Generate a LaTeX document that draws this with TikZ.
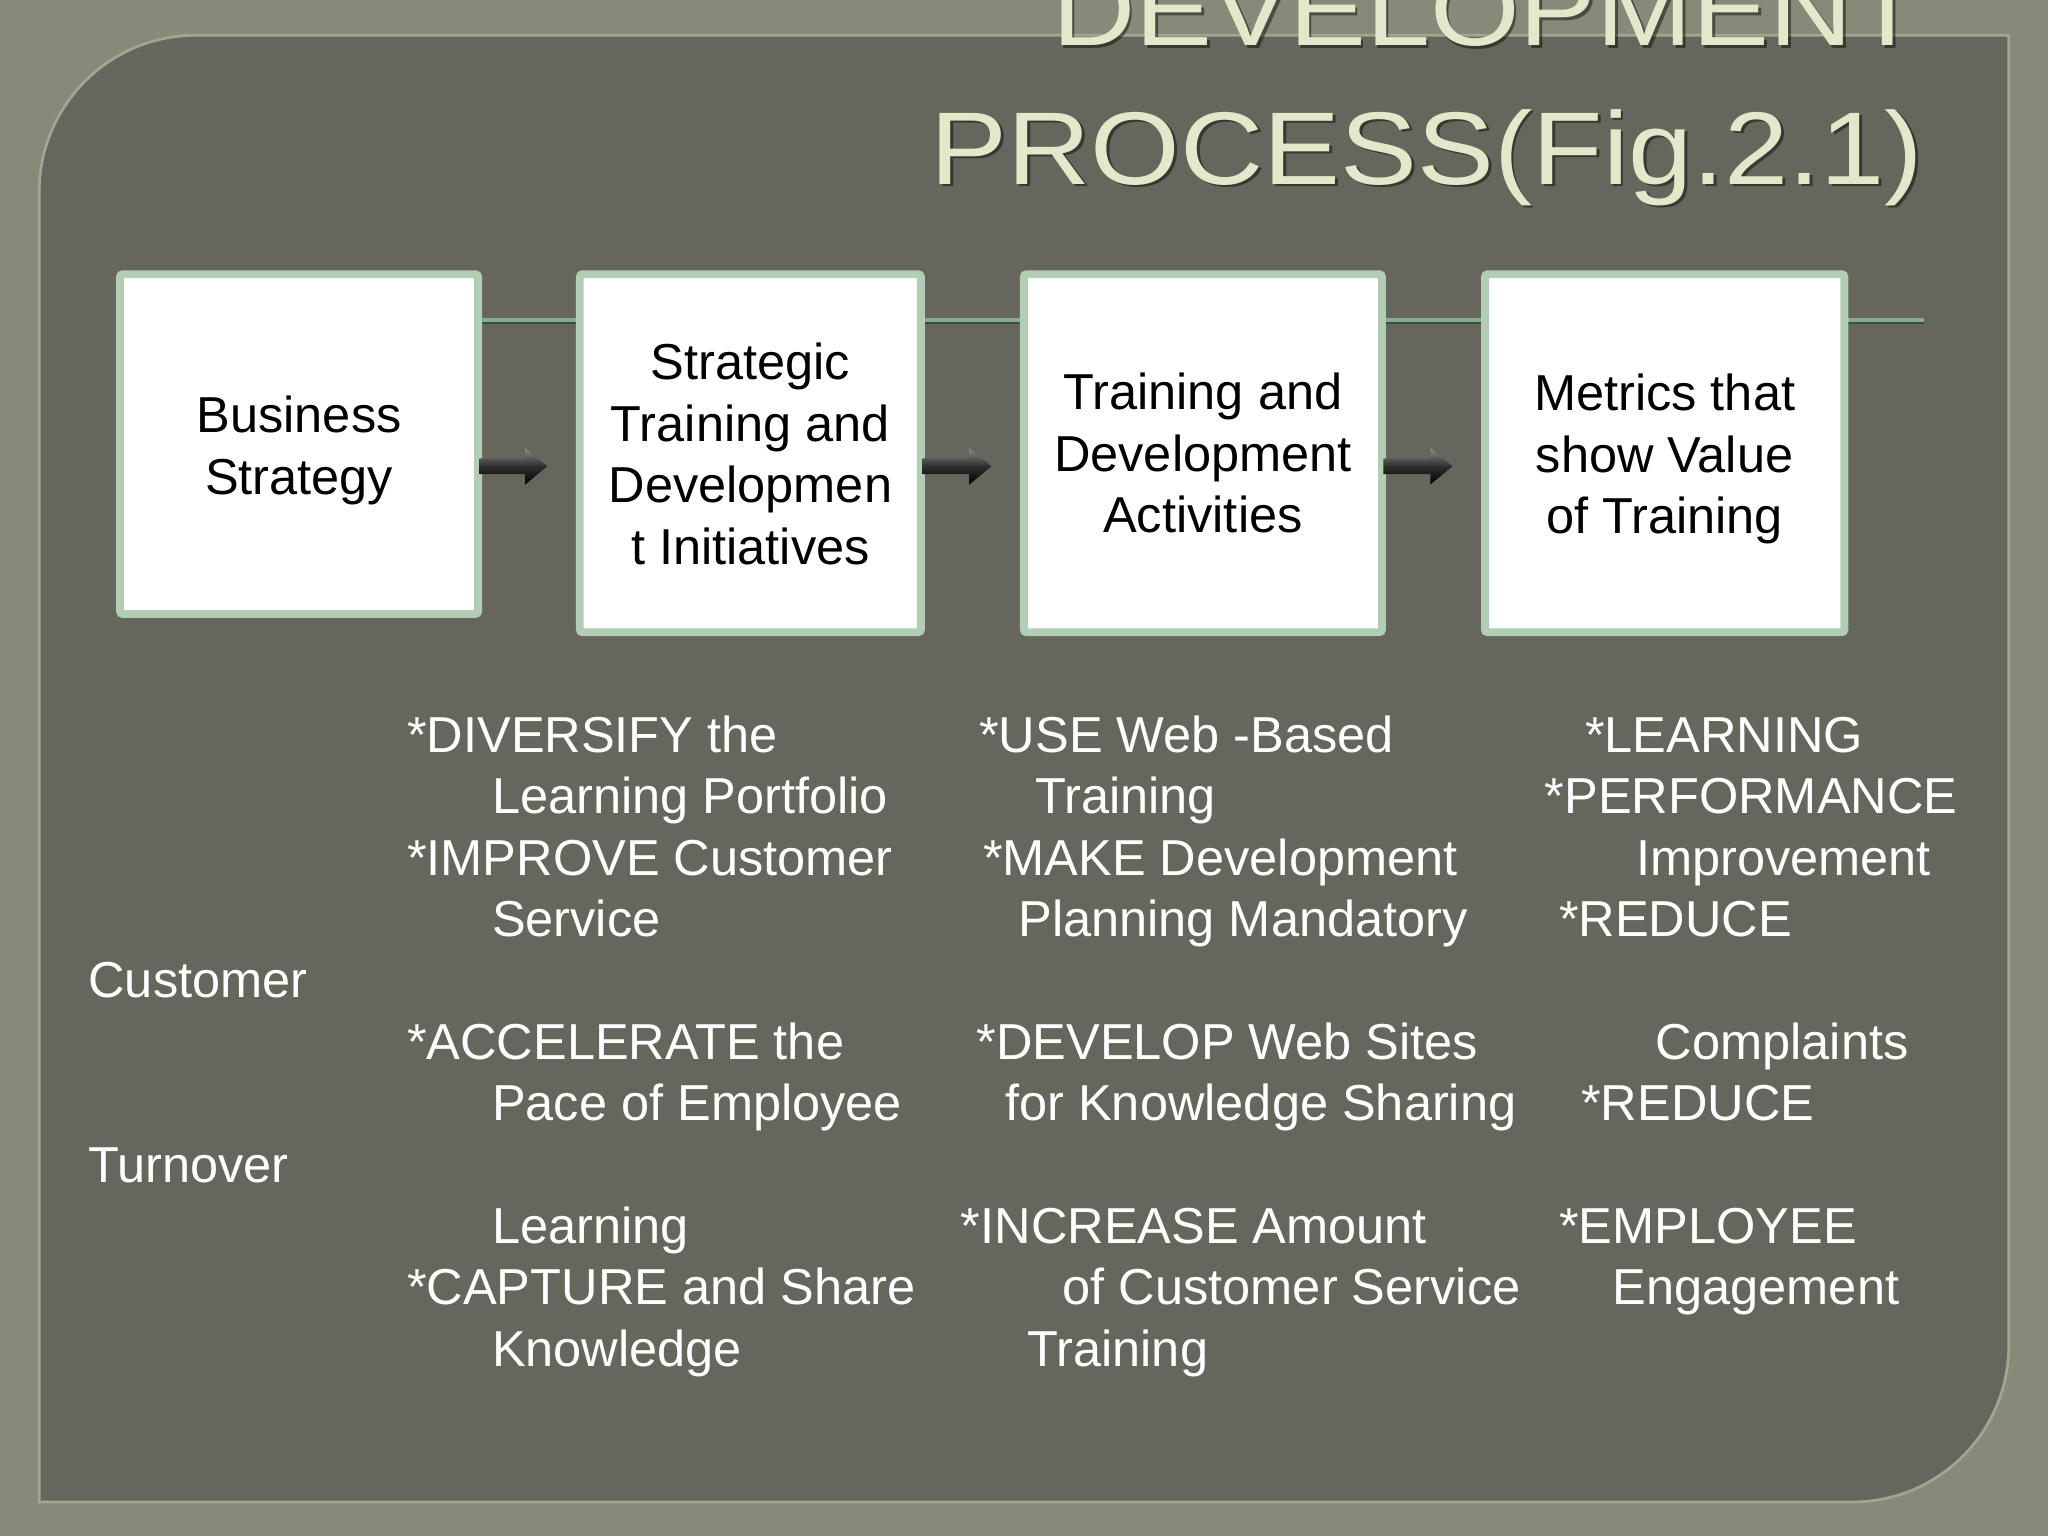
\documentclass[tikz,border=0pt]{standalone}
\usepackage{fontspec}
\setmainfont{Liberation Sans}
\newfontfamily\titlefont[FakeStretch=1.115]{Liberation Sans}
\usetikzlibrary{calc}
\definecolor{bgc}{HTML}{878A78}
\definecolor{panelc}{HTML}{66665C}
\definecolor{paneledge}{HTML}{A3A592}
\definecolor{boxedge}{HTML}{B1CDB4}
\definecolor{titlec}{HTML}{E5E7CB}
\definecolor{lineg}{HTML}{86AC8C}
\definecolor{lined}{HTML}{3E4A40}
\begin{document}
\begin{tikzpicture}[x=0.01cm,y=-0.01cm,
  stepbox/.style={draw=boxedge, line width=0.06cm, fill=white, rounded corners=0.6pt, inner sep=0pt},
  boxtext/.style={align=center, inner sep=0pt, font=\fontsize{11}{13.37}\selectfont, text=black},
  body/.style={anchor=base west, inner sep=0pt, text=white, font=\fontsize{11}{13}\selectfont},
  ttl/.style={anchor=base west, inner sep=0pt, text=titlec, font=\titlefont\fontsize{22.5}{27}\selectfont},
  ttlshadow/.style={anchor=base west, inner sep=0pt, text=black, opacity=0.45, font=\titlefont\fontsize{22.5}{27}\selectfont},
  blockarrow/.style={top color=black!45, bottom color=black, middle color=black!82},
  hline/.style={draw=lineg, line width=0.7pt},
  hshadow/.style={draw=lined, line width=0.7pt}
]
\useasboundingbox (0,0) rectangle (1568,1176);
\clip (0,0) rectangle (1568,1176);
% background
\fill[bgc] (0,0) rectangle (1568,1176);
% panel
\draw[fill=panelc, draw=paneledge, line width=0.6pt]
  (150,27) -- (1538,27) -- (1538,1030) arc[start angle=0, end angle=90, radius=120]
  -- (30,1150) -- (30,147) arc[start angle=180, end angle=270, radius=120] -- cycle;

% title
\node[ttlshadow] (t1s) at (807,37) {DEVELOPMENT};
\node[ttl] (t1) at (805,35) {DEVELOPMENT};
\node[ttlshadow] (t2s) at (714,143) {PROCESS(Fig.2.1)};
\node[ttl] (t2) at (712,141) {PROCESS(Fig.2.1)};

% positions
\coordinate (lineend) at (1473,245);
\path (229,340) coordinate (c1) (574.5,347) coordinate (c2) (921,347) coordinate (c3) (1274.5,347) coordinate (c4);
\draw[hshadow] ($(c1 |- lineend)+(0,1.8)$) -- ($(lineend)+(0,1.8)$);
\draw[hline] (c1 |- lineend) -- (lineend);

% boxes
\node[stepbox, minimum width=2.74cm, minimum height=2.60cm] (b1) at (c1) {};
\node[stepbox, minimum width=2.61cm, minimum height=2.74cm] (b2) at (c2) {};
\node[stepbox, minimum width=2.74cm, minimum height=2.74cm] (b3) at (c3) {};
\node[stepbox, minimum width=2.75cm, minimum height=2.74cm] (b4) at (c4) {};
\node[boxtext] (b1t) at ($(b1)+(0,5)$) {Business\\Strategy};
\node[boxtext] (b2t) at ($(b2)+(0,0.5)$) {Strategic\\Training and\\Developmen\\t Initiatives};
\node[boxtext] (b3t) at (b3) {Training and\\Development\\Activities};
\node[boxtext] (b4t) at ($(b4)+(0,4.5)$) {Metrics that\\show Value\\of Training};

% block arrows
\shade[blockarrow] ($(b1.east |- 0,357)+(-2,-6)$) -- ++(35,0) -- ++(0,-8) -- ++(17,14) -- ++(-17,14) -- ++(0,-8) -- ++(-35,0) -- cycle;
\shade[blockarrow] ($(b2.east |- 0,357)+(-2,-6)$) -- ++(36,0) -- ++(0,-8) -- ++(17,14) -- ++(-17,14) -- ++(0,-8) -- ++(-36,0) -- cycle;
\shade[blockarrow] ($(b3.east |- 0,357)+(-2,-6)$) -- ++(36,0) -- ++(0,-8) -- ++(17,14) -- ++(-17,14) -- ++(0,-8) -- ++(-36,0) -- cycle;

% left labels
\node[body] (l1) at (67,764) {Customer};
\node[body] (l2) at (67,905) {Turnover};

% column A
\node[body] (a1) at (311,576) {*DIVERSIFY the};
\node[body] (a2) at (376,623) {Learning Portfolio};
\node[body] (a3) at (311,670) {*IMPROVE Customer};
\node[body] (a4) at (376,717) {Service};
\node[body] (a5) at (311,811) {*ACCELERATE the};
\node[body] (a6) at (376,858) {Pace of Employee};
\node[body] (a7) at (376,952) {Learning};
\node[body] (a8) at (311,999) {*CAPTURE and Share};
\node[body] (a9) at (376,1046) {Knowledge};

% column B
\node[body] (m1) at (749,576) {*USE Web -Based};
\node[body] (m2) at (792,623) {Training};
\node[body] (m3) at (752,670) {*MAKE Development};
\node[body] (m4) at (779,717) {Planning Mandatory};
\node[body] (m5) at (747,811) {*DEVELOP Web Sites};
\node[body] (m6) at (769,858) {for Knowledge Sharing};
\node[body] (m7) at (735,952) {*INCREASE Amount};
\node[body] (m8) at (813,999) {of Customer Service};
\node[body] (m9) at (786,1046) {Training};

% column C
\node[body] (r1) at (1213,576) {*LEARNING};
\node[body] (r2) at (1182,623) {*PERFORMANCE};
\node[body] (r3) at (1252,670) {Improvement};
\node[body] (r4) at (1193,717) {*REDUCE};
\node[body] (r5) at (1267,811) {Complaints};
\node[body] (r6) at (1210,858) {*REDUCE};
\node[body] (r7) at (1193,952) {*EMPLOYEE};
\node[body] (r8) at (1234,999) {Engagement};
\end{tikzpicture}
\end{document}
